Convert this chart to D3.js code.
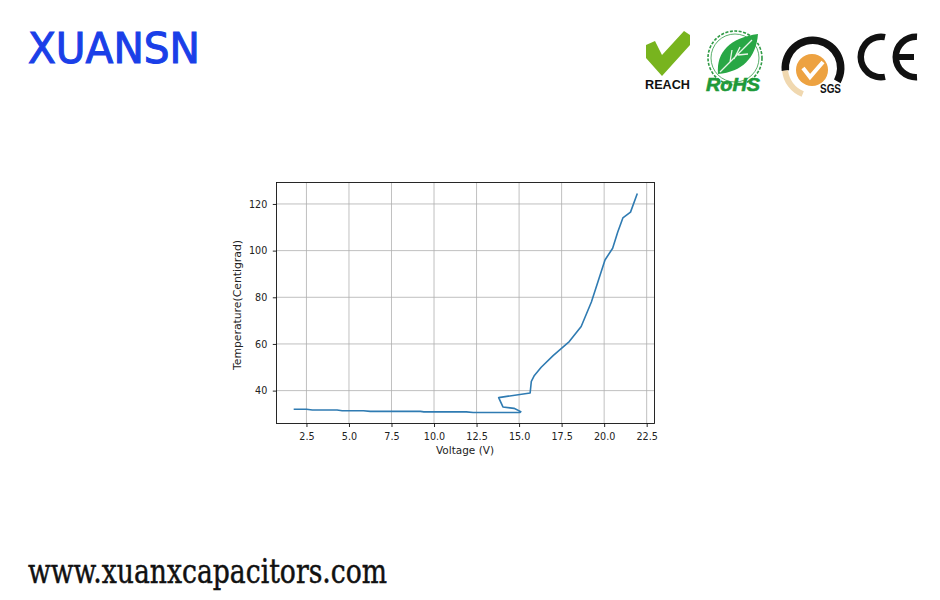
<!DOCTYPE html>
<html><head><meta charset="utf-8">
<script src="https://cdn.jsdelivr.net/npm/d3@7"></script>
<style>body{margin:0;background:#fff}</style></head>
<body><svg id="c" width="940" height="600"></svg>
<script>
// ---- data ----
const voltage = [1.75, 2.5, 2.85, 4.3, 4.6, 5.85, 6.25, 9.2, 9.4, 11.9, 12.3, 15.05, 15.1, 14.7, 14.05, 13.8, 15.65, 15.72, 15.9, 16.3, 17.0, 17.95, 18.65, 19.25, 19.65, 20.05, 20.5, 20.8, 21.1, 21.55, 21.95];
const temperature = [32.0, 32.0, 31.7, 31.7, 31.4, 31.4, 31.1, 31.1, 30.9, 30.9, 30.6, 30.6, 31.0, 32.4, 33.0, 37.0, 39.0, 44.0, 46.5, 50.0, 55.0, 61.0, 67.5, 78.0, 87.0, 96.0, 101.0, 108.0, 114.0, 116.5, 124.5];
const xTicks = [2.5, 5.0, 7.5, 10.0, 12.5, 15.0, 17.5, 20.0, 22.5];
const yTicks = [40, 60, 80, 100, 120];
const xLabel = "Voltage (V)";
const yLabel = "Temperature(Centigrad)";
const brand = "XUANSN";
const site = "www.xuanxcapacitors.com";
const certs = ["REACH", "RoHS", "SGS", "CE"];

const svg = d3.select("#c");
svg.append("rect").attr("width", 940).attr("height", 600).attr("fill", "#fff");

const L = 276.5, R = 654.5, T = 182.5, B = 423.5;
const pad = (ext) => { const m = (ext[1] - ext[0]) * 0.05; return [ext[0] - m, ext[1] + m]; };
const x = d3.scaleLinear().domain(pad(d3.extent(voltage))).range([L, R]);
const y = d3.scaleLinear().domain(pad(d3.extent(temperature))).range([B, T]);

const font = "'DejaVu Sans', sans-serif";

// grid
const g = svg.append("g");
g.selectAll(".gx").data(xTicks).join("line")
  .attr("x1", d => x(d)).attr("x2", d => x(d)).attr("y1", T).attr("y2", B)
  .attr("stroke", "#b0b0b0").attr("stroke-width", 0.8);
g.selectAll(".gy").data(yTicks).join("line")
  .attr("y1", d => y(d)).attr("y2", d => y(d)).attr("x1", L).attr("x2", R)
  .attr("stroke", "#b0b0b0").attr("stroke-width", 0.8);

// line
const pts = voltage.map((v, i) => [v, temperature[i]]);
svg.append("path").datum(pts)
  .attr("d", d3.line().x(d => x(d[0])).y(d => y(d[1])))
  .attr("fill", "none").attr("stroke", "#2f7bb2").attr("stroke-width", 1.6)
  .attr("stroke-linejoin", "round");

// frame
svg.append("rect").attr("x", L).attr("y", T).attr("width", R - L).attr("height", B - T)
  .attr("fill", "none").attr("stroke", "#111").attr("stroke-width", 0.9);

// axes
const ax = svg.append("g").attr("transform", `translate(0,${B})`)
  .call(d3.axisBottom(x).tickValues(xTicks).tickFormat(d3.format(".1f")).tickSize(3.5).tickPadding(6.5).tickSizeOuter(0));
const ay = svg.append("g").attr("transform", `translate(${L},0)`)
  .call(d3.axisLeft(y).tickValues(yTicks).tickFormat(d => d).tickSize(3.7).tickPadding(5.5).tickSizeOuter(0));
[ax, ay].forEach(a => {
  a.select(".domain").remove();
  a.selectAll("line").attr("stroke", "#111").attr("stroke-width", 0.9);
  a.selectAll("text").attr("font-family", font).attr("font-size", 9.6).attr("fill", "#222");
});

svg.append("text").text(xLabel).attr("x", 465).attr("y", 454)
  .attr("text-anchor", "middle").attr("font-family", font).attr("font-size", 10.4).attr("fill", "#222")
  .attr("textLength", 58).attr("lengthAdjust", "spacingAndGlyphs");
svg.append("text").text(yLabel).attr("transform", "translate(241,305) rotate(-90)")
  .attr("text-anchor", "middle").attr("font-family", font).attr("font-size", 10.4).attr("fill", "#222")
  .attr("textLength", 130).attr("lengthAdjust", "spacingAndGlyphs");

// brand + site
svg.append("text").text(brand).attr("x", 28).attr("y", 63)
  .attr("font-family", font).attr("font-size", 42).attr("fill", "#1a3fe8")
  .attr("stroke", "#1a3fe8").attr("stroke-width", 1.1)
  .attr("textLength", 172).attr("lengthAdjust", "spacingAndGlyphs");
svg.append("text").text(site).attr("x", 28).attr("y", 583)
  .attr("font-family", "'DejaVu Serif', serif").attr("font-size", 33).attr("fill", "#111")
  .attr("stroke", "#111").attr("stroke-width", 0.5)
  .attr("textLength", 359).attr("lengthAdjust", "spacingAndGlyphs");

// ---- certification logos ----
const lg = svg.append("g");
// REACH
lg.append("polygon").attr("points", "646,45 655,41 662,55 684,31 690,35 690,45 662,76 646,58").attr("fill", "#78b41e");
lg.append("text").text(certs[0]).attr("x", 645).attr("y", 89).attr("font-family", "'Liberation Sans', Arial, sans-serif")
  .attr("font-weight", "bold").attr("font-size", 12.5).attr("fill", "#111").attr("textLength", 45).attr("lengthAdjust", "spacingAndGlyphs");
// RoHS
lg.append("circle").attr("cx", 735).attr("cy", 58).attr("r", 27).attr("fill", "none").attr("stroke", "#2f9a45").attr("stroke-width", 1.6).attr("stroke-dasharray", "3,1.5");
lg.append("circle").attr("cx", 735).attr("cy", 58).attr("r", 24).attr("fill", "none").attr("stroke", "#2f9a45").attr("stroke-width", 0.8);
lg.append("path").attr("d", "M718,74 C716,52 730,38 758,34 C756,58 742,72 718,74 Z").attr("fill", "#28a745");
lg.append("path").attr("d", "M720,72 L752,40 M730,62 L732,50 M738,55 L748,54 M734,59 L740,47").attr("stroke", "#e8f5e8").attr("stroke-width", 1.3).attr("fill", "none");
lg.append("text").text(certs[1]).attr("x", 706).attr("y", 91).attr("font-family", "'Liberation Sans', Arial, sans-serif")
  .attr("font-weight", "bold").attr("font-style", "italic").attr("font-size", 18).attr("fill", "#1e9a3a")
  .attr("stroke", "#1e9a3a").attr("stroke-width", 0.6)
  .attr("textLength", 54).attr("lengthAdjust", "spacingAndGlyphs");
// SGS
const arcGen = d3.arc();
lg.append("path").attr("transform", "translate(813,68)")
  .attr("d", arcGen({innerRadius: 24, outerRadius: 31.5, startAngle: -Math.PI * 0.53, endAngle: Math.PI * 0.66})).attr("fill", "#111");
lg.append("path").attr("transform", "translate(813,68)")
  .attr("d", arcGen({innerRadius: 25, outerRadius: 31, startAngle: -Math.PI * 0.88, endAngle: -Math.PI * 0.53})).attr("fill", "#f0d8b0");
lg.append("circle").attr("cx", 812).attr("cy", 70).attr("r", 16).attr("fill", "#eda241");
lg.append("path").attr("d", "M803,68 L810,77 L823,62").attr("stroke", "#fff").attr("stroke-width", 4).attr("fill", "none");
lg.append("text").text(certs[2]).attr("x", 820).attr("y", 93).attr("font-family", "'Liberation Sans', Arial, sans-serif")
  .attr("font-weight", "bold").attr("font-size", 13.5).attr("fill", "#111").attr("textLength", 21).attr("lengthAdjust", "spacingAndGlyphs");
// CE
lg.append("path").attr("transform", "translate(881,57)")
  .attr("d", arcGen({innerRadius: 17, outerRadius: 23.5, startAngle: Math.PI - 0.2, endAngle: 2 * Math.PI + 0.2})).attr("fill", "#111");
lg.append("path").attr("transform", "translate(916,57)")
  .attr("d", arcGen({innerRadius: 17, outerRadius: 23.5, startAngle: Math.PI - 0.05, endAngle: 2 * Math.PI + 0.05})).attr("fill", "#111");
lg.append("rect").attr("x", 896).attr("y", 54).attr("width", 18).attr("height", 6).attr("fill", "#111");
</script>
</body></html>
